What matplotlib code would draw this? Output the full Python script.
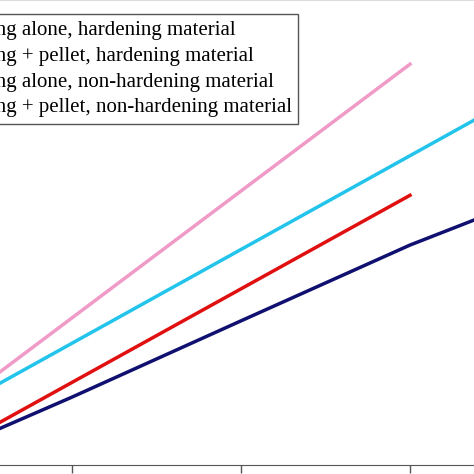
import numpy as np
import matplotlib.pyplot as plt

plt.rcParams['font.family'] = ['Liberation Serif', 'DejaVu Serif']

labels = ['Loading alone, hardening material',
          'Loading + pellet, hardening material',
          'Loading alone, non-hardening material',
          'Loading + pellet, non-hardening material']
colors = ['#f09ac8', '#22c4ec', '#e01010', '#101070']

x_pink = [0.5, 3.0]
y_pink = [1.80, 8.62]
x_cyan = [0.5, 3.5]
y_cyan = [1.61, 7.66]
x_red = [0.5, 3.0]
y_red = [0.77, 5.80]
x_navy = [0.5, 1.0, 2.0, 3.0, 3.5]
y_navy = [0.67, 1.46, 3.10, 4.73, 5.44]

fig = plt.figure(figsize=(4.74, 4.74), dpi=100)
ax = fig.add_axes([0, 9 / 474, 1, 465 / 474])

series = [(x_pink, y_pink), (x_cyan, y_cyan), (x_red, y_red), (x_navy, y_navy)]
for (xs, ys), c, lab in zip(series, colors, labels):
    ax.plot(xs, ys, color=c, lw=2.5, label=lab)

ax.set_xlim(1 - 72 / 169, 1 + 402 / 169)
ax.set_ylim(0, 10)
ax.set_xticks([1, 2, 3])
ax.set_xticklabels([])
ax.set_yticks([])
ax.tick_params(axis='x', direction='out', length=6, width=1, color='#555555')
for s in ['left', 'right']:
    ax.spines[s].set_visible(False)
ax.spines['bottom'].set_color('#555555')
ax.spines['top'].set_color('#dddddd')

leg = ax.legend(loc='upper right', bbox_to_anchor=(298 / 474, 1 - 14 / 474),
                bbox_transform=fig.transFigure, fontsize=15, labelspacing=0.3,
                fancybox=False, framealpha=1, borderpad=0.3, borderaxespad=0,
                handlelength=2)
leg.get_frame().set_edgecolor('#555555')
leg.get_frame().set_linewidth(1)

fig.savefig('out.png', dpi=100)
